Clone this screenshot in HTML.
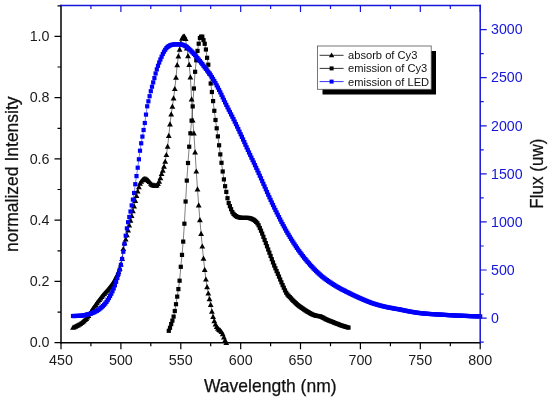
<!DOCTYPE html>
<html><head><meta charset="utf-8"><title>Spectra</title>
<style>html,body{margin:0;padding:0;background:#fff}svg{display:block;filter:blur(0.4px)}</style></head>
<body>
<svg width="550" height="400" viewBox="0 0 550 400" font-family="'Liberation Sans', Arial, sans-serif">
<defs>
<marker id="mt" markerWidth="6" markerHeight="6" refX="3" refY="3" markerUnits="userSpaceOnUse" overflow="visible"><path d="M3 0 L5.9 5.2 L0.1 5.2 Z" fill="#000"/></marker>
<marker id="ms" markerWidth="6" markerHeight="6" refX="3" refY="3" markerUnits="userSpaceOnUse" overflow="visible"><rect x="0.9" y="0.9" width="4.2" height="4.2" fill="#000"/></marker>
<marker id="mb" markerWidth="6" markerHeight="6" refX="3" refY="3" markerUnits="userSpaceOnUse" overflow="visible"><rect x="0.9" y="0.9" width="4.2" height="4.2" fill="#0000fa"/></marker>
</defs>
<rect width="550" height="400" fill="#fff"/>
<polyline fill="none" stroke="#000" stroke-width="0.5" marker-start="url(#mt)" marker-mid="url(#mt)" marker-end="url(#mt)" points="73.0,327.5 74.2,327.0 75.4,326.5 76.6,325.9 77.8,325.2 79.0,324.5 80.2,323.7 81.4,322.9 82.6,322.0 83.8,321.0 85.0,319.9 86.2,318.7 87.3,317.4 88.5,315.7 89.7,313.9 90.9,311.9 92.1,310.0 93.3,308.1 94.5,306.4 95.7,304.7 96.9,303.1 98.1,301.4 99.3,299.8 100.5,298.3 101.7,296.7 102.9,295.3 104.1,293.9 105.3,292.6 106.5,291.3 107.7,289.9 108.9,288.5 110.1,286.9 111.3,285.3 112.5,283.5 113.7,281.7 114.9,279.6 116.1,277.3 117.3,274.8 118.5,271.9 119.7,268.6 120.9,264.4 122.1,258.8 123.3,248.9 124.5,243.1 125.7,239.4 126.9,235.1 128.1,230.3 129.3,225.4 130.5,220.6 131.7,215.9 132.9,211.1 134.1,206.2 135.3,200.8 136.5,195.9 137.7,191.2 138.9,187.0 140.0,183.6 141.2,181.5 142.4,180.0 143.6,179.2 144.8,178.8 146.0,179.0 147.2,179.8 148.4,180.8 149.6,181.9 150.8,183.5 152.0,184.7 153.2,185.2 154.4,185.6 155.6,185.7 156.8,185.4 158.0,183.8 159.2,181.6 160.4,178.1 161.6,173.9 162.8,170.5 164.0,166.6 165.2,161.5 166.4,154.9 167.6,146.5 168.8,135.7 170.0,124.3 171.2,114.2 172.4,106.5 173.6,98.3 174.8,88.9 176.0,77.6 177.2,65.0 178.4,56.2 179.6,49.6 180.8,43.4 182.0,38.6 183.2,36.6 184.4,36.6 185.6,38.8 186.8,48.3 188.0,56.1 189.2,64.8 190.4,77.2 191.6,99.3 192.7,120.4 193.9,133.3 195.1,152.2 196.3,171.4 197.5,189.3 198.7,205.2 199.9,220.0 201.1,233.8 202.3,246.4 203.5,258.6 204.7,269.7 205.9,279.4 207.1,287.1 208.3,293.4 209.5,299.1 210.7,304.7 211.9,311.5 213.1,316.7 214.3,321.1 215.5,324.4 216.7,326.8 217.9,328.6 219.1,329.8 220.3,330.6 221.5,331.9 222.7,334.1 223.9,337.2 225.1,340.4 226.3,342.9"/>
<polyline fill="none" stroke="#000" stroke-width="0.5" marker-start="url(#ms)" marker-mid="url(#ms)" marker-end="url(#ms)" points="168.8,330.8 170.0,327.8 171.2,324.1 172.4,320.6 173.6,316.6 174.8,311.0 176.0,304.2 177.2,296.6 178.4,289.1 179.6,280.7 180.8,266.8 182.0,254.9 183.2,241.6 184.4,223.7 185.6,201.5 186.8,180.6 188.0,163.0 189.2,146.7 190.4,133.3 191.6,120.6 192.7,106.4 193.9,88.5 195.1,71.8 196.3,60.3 197.5,50.9 198.7,43.7 199.9,38.0 201.1,36.7 202.3,36.7 203.5,40.1 204.7,43.8 205.9,49.5 207.1,57.8 208.3,64.7 209.5,73.7 210.7,83.5 211.9,92.0 213.1,101.1 214.3,110.8 215.5,120.0 216.7,128.3 217.9,136.4 219.1,145.3 220.3,154.4 221.5,162.8 222.7,171.5 223.9,179.4 225.1,186.2 226.3,191.9 227.5,198.2 228.7,203.0 229.9,206.2 231.1,209.2 232.3,212.1 233.5,213.9 234.7,215.1 235.9,216.1 237.1,216.7 238.3,217.1 239.5,217.5 240.7,217.8 241.9,217.9 243.1,217.9 244.3,217.9 245.4,217.9 246.6,217.9 247.8,217.9 249.0,218.0 250.2,218.3 251.4,218.7 252.6,219.3 253.8,219.9 255.0,220.8 256.2,221.9 257.4,223.3 258.6,225.3 259.8,228.0 261.0,230.7 262.2,233.6 263.4,236.8 264.6,240.0 265.8,243.1 267.0,246.3 268.2,249.5 269.4,252.7 270.6,256.0 271.8,259.2 273.0,262.4 274.2,265.5 275.4,268.3 276.6,271.1 277.8,273.8 279.0,276.6 280.2,279.5 281.4,282.3 282.6,285.1 283.8,287.7 285.0,290.4 286.2,292.7 287.4,294.5 288.6,295.9 289.8,297.1 291.0,298.4 292.2,299.7 293.4,300.9 294.6,302.1 295.8,303.2 296.9,304.3 298.1,305.2 299.3,306.2 300.5,307.0 301.7,307.9 302.9,308.7 304.1,309.5 305.3,310.3 306.5,311.1 307.7,311.9 308.9,312.5 310.1,313.2 311.3,313.9 312.5,314.5 313.7,315.0 314.9,315.4 316.1,315.7 317.3,315.9 318.5,316.1 319.7,316.3 320.9,316.7 322.1,317.2 323.3,317.8 324.5,318.5 325.7,319.2 326.9,319.7 328.1,320.2 329.3,320.7 330.5,321.2 331.7,321.6 332.9,322.1 334.1,322.6 335.3,323.1 336.5,323.6 337.7,324.0 338.9,324.5 340.1,325.0 341.3,325.4 342.5,325.8 343.7,326.2 344.9,326.6 346.1,326.9 347.3,327.3 348.5,327.6"/>
<polyline fill="none" stroke="#0000fa" stroke-width="0.5" marker-start="url(#mb)" marker-mid="url(#mb)" marker-end="url(#mb)" points="73.0,316.0 74.2,316.0 75.4,316.0 76.6,315.9 77.8,315.9 79.0,315.8 80.2,315.8 81.4,315.7 82.6,315.5 83.8,315.3 85.0,315.1 86.2,314.8 87.3,314.5 88.5,314.2 89.7,313.9 90.9,313.5 92.1,313.1 93.3,312.6 94.5,312.1 95.7,311.4 96.9,310.8 98.1,310.0 99.3,309.2 100.5,308.2 101.7,307.2 102.9,306.1 104.1,304.8 105.3,303.5 106.5,301.9 107.7,300.1 108.9,298.1 110.1,296.0 111.3,293.7 112.5,291.2 113.7,288.4 114.9,285.3 116.1,281.8 117.3,278.0 118.5,274.0 119.7,269.7 120.9,264.8 122.1,259.0 123.3,251.7 124.5,243.8 125.7,235.7 126.9,228.4 128.1,222.2 129.3,217.0 130.5,211.5 131.7,205.4 132.9,199.6 134.1,193.0 135.3,184.2 136.5,176.1 137.7,167.7 138.9,159.3 140.0,150.7 141.2,143.3 142.4,136.6 143.6,130.0 144.8,123.0 146.0,114.6 147.2,106.3 148.4,101.3 149.6,96.2 150.8,91.2 152.0,86.7 153.2,82.4 154.4,78.1 155.6,73.5 156.8,69.4 158.0,65.8 159.2,62.5 160.4,59.5 161.6,56.7 162.8,54.0 164.0,51.7 165.2,49.8 166.4,48.1 167.6,46.9 168.8,46.1 170.0,45.4 171.2,45.0 172.4,44.7 173.6,44.5 174.8,44.3 176.0,44.3 177.2,44.3 178.4,44.3 179.6,44.4 180.8,44.5 182.0,44.6 183.2,45.0 184.4,45.5 185.6,46.1 186.8,46.9 188.0,48.0 189.2,49.2 190.4,50.3 191.6,51.5 192.7,52.6 193.9,53.9 195.1,55.2 196.3,56.6 197.5,58.1 198.7,59.6 199.9,61.1 201.1,62.6 202.3,64.1 203.5,65.7 204.7,67.3 205.9,68.9 207.1,70.5 208.3,72.0 209.5,73.6 210.7,75.3 211.9,77.1 213.1,79.0 214.3,81.1 215.5,83.2 216.7,85.4 217.9,87.6 219.1,89.9 220.3,92.3 221.5,94.8 222.7,97.4 223.9,99.9 225.1,102.4 226.3,104.9 227.5,107.3 228.7,109.7 229.9,112.0 231.1,114.4 232.3,116.7 233.5,119.1 234.7,121.6 235.9,124.1 237.1,126.6 238.3,129.1 239.5,131.7 240.7,134.3 241.9,136.9 243.1,139.5 244.3,142.1 245.4,144.7 246.6,147.3 247.8,149.9 249.0,152.5 250.2,155.0 251.4,157.6 252.6,160.1 253.8,162.6 255.0,165.2 256.2,167.8 257.4,170.4 258.6,173.0 259.8,175.7 261.0,178.3 262.2,181.1 263.4,183.8 264.6,186.5 265.8,189.3 267.0,192.0 268.2,194.7 269.4,197.3 270.6,199.9 271.8,202.5 273.0,205.0 274.2,207.5 275.4,210.0 276.6,212.4 277.8,214.8 279.0,217.1 280.2,219.5 281.4,221.8 282.6,224.1 283.8,226.3 285.0,228.5 286.2,230.7 287.4,232.8 288.6,234.8 289.8,236.8 291.0,238.8 292.2,240.7 293.4,242.6 294.6,244.4 295.8,246.2 296.9,247.9 298.1,249.6 299.3,251.3 300.5,252.9 301.7,254.5 302.9,256.1 304.1,257.6 305.3,259.1 306.5,260.5 307.7,261.9 308.9,263.3 310.1,264.7 311.3,266.0 312.5,267.3 313.7,268.6 314.9,269.8 316.1,271.0 317.3,272.2 318.5,273.3 319.7,274.4 320.9,275.5 322.1,276.5 323.3,277.4 324.5,278.4 325.7,279.3 326.9,280.1 328.1,281.0 329.3,281.8 330.5,282.6 331.7,283.4 332.9,284.2 334.1,284.9 335.3,285.7 336.5,286.4 337.7,287.1 338.9,287.8 340.1,288.4 341.3,289.1 342.5,289.7 343.7,290.3 344.9,290.9 346.1,291.6 347.3,292.1 348.5,292.7 349.6,293.3 350.8,293.9 352.0,294.5 353.2,295.0 354.4,295.6 355.6,296.2 356.8,296.7 358.0,297.3 359.2,297.8 360.4,298.3 361.6,298.9 362.8,299.4 364.0,299.9 365.2,300.4 366.4,300.9 367.6,301.4 368.8,301.9 370.0,302.3 371.2,302.8 372.4,303.2 373.6,303.6 374.8,304.0 376.0,304.3 377.2,304.7 378.4,305.0 379.6,305.4 380.8,305.7 382.0,306.0 383.2,306.3 384.4,306.6 385.6,306.8 386.8,307.1 388.0,307.4 389.2,307.6 390.4,307.8 391.6,308.0 392.8,308.3 394.0,308.5 395.2,308.7 396.4,308.9 397.6,309.1 398.8,309.3 400.0,309.5 401.2,309.8 402.3,310.0 403.5,310.3 404.7,310.5 405.9,310.8 407.1,311.0 408.3,311.2 409.5,311.5 410.7,311.7 411.9,311.9 413.1,312.1 414.3,312.3 415.5,312.5 416.7,312.7 417.9,312.8 419.1,313.0 420.3,313.1 421.5,313.3 422.7,313.4 423.9,313.5 425.1,313.6 426.3,313.7 427.5,313.8 428.7,313.9 429.9,314.0 431.1,314.1 432.3,314.1 433.5,314.2 434.7,314.3 435.9,314.4 437.1,314.4 438.3,314.5 439.5,314.6 440.7,314.6 441.9,314.7 443.1,314.8 444.3,314.9 445.5,314.9 446.7,315.0 447.9,315.1 449.1,315.1 450.3,315.2 451.5,315.3 452.7,315.3 453.9,315.4 455.0,315.5 456.2,315.5 457.4,315.6 458.6,315.6 459.8,315.7 461.0,315.7 462.2,315.8 463.4,315.8 464.6,315.9 465.8,315.9 467.0,316.0 468.2,316.0 469.4,316.1 470.6,316.1 471.8,316.2 473.0,316.2 474.2,316.2 475.4,316.3 476.6,316.3 477.8,316.3 479.0,316.4 480.2,316.4"/>
<g stroke="#000" stroke-width="1.5" fill="none">
<path d="M61.0 4.75 V343.45"/>
<path d="M60.25 342.7 H480.95"/>
<path d="M61.0 342.7h-6.5M61.0 281.4h-6.5M61.0 220.2h-6.5M61.0 158.9h-6.5M61.0 97.7h-6.5M61.0 36.4h-6.5M61.0 312.1h-3.5M61.0 250.8h-3.5M61.0 189.5h-3.5M61.0 128.3h-3.5M61.0 67.0h-3.5M61.0 5.8h-3.5M61.0 342.7v6.5M120.9 342.7v6.5M180.8 342.7v6.5M240.7 342.7v6.5M300.5 342.7v6.5M360.4 342.7v6.5M420.3 342.7v6.5M480.2 342.7v6.5M90.9 342.7v3.5M150.8 342.7v3.5M210.7 342.7v3.5M270.6 342.7v3.5M330.5 342.7v3.5M390.4 342.7v3.5M450.3 342.7v3.5" stroke-width="1.2"/>
</g>
<g stroke="#1616d8" stroke-width="1.5" fill="none">
<path d="M60.25 5.5 H480.95"/>
<path d="M480.2 4.75 V343.45"/>
<path d="M120.9 5.5v6.5M180.8 5.5v6.5M240.7 5.5v6.5M300.5 5.5v6.5M360.4 5.5v6.5M420.3 5.5v6.5M480.2 5.5v6.5M90.9 5.5v3.5M150.8 5.5v3.5M210.7 5.5v3.5M270.6 5.5v3.5M330.5 5.5v3.5M390.4 5.5v3.5M450.3 5.5v3.5M480.2 318.1h6.5M480.2 270.0h6.5M480.2 221.9h6.5M480.2 173.9h6.5M480.2 125.8h6.5M480.2 77.7h6.5M480.2 29.6h6.5M480.2 342.1h3.5M480.2 294.1h3.5M480.2 246.0h3.5M480.2 197.9h3.5M480.2 149.8h3.5M480.2 101.7h3.5M480.2 53.6h3.5" stroke-width="1.2"/>
</g>
<g font-size="14.3" fill="#1a1a1a">
<text x="49.5" y="347.4" text-anchor="end">0.0</text>
<text x="49.5" y="286.1" text-anchor="end">0.2</text>
<text x="49.5" y="224.9" text-anchor="end">0.4</text>
<text x="49.5" y="163.6" text-anchor="end">0.6</text>
<text x="49.5" y="102.4" text-anchor="end">0.8</text>
<text x="49.5" y="41.1" text-anchor="end">1.0</text>
<text x="61.0" y="364.7" text-anchor="middle">450</text>
<text x="120.9" y="364.7" text-anchor="middle">500</text>
<text x="180.8" y="364.7" text-anchor="middle">550</text>
<text x="240.7" y="364.7" text-anchor="middle">600</text>
<text x="300.5" y="364.7" text-anchor="middle">650</text>
<text x="360.4" y="364.7" text-anchor="middle">700</text>
<text x="420.3" y="364.7" text-anchor="middle">750</text>
<text x="480.2" y="364.7" text-anchor="middle">800</text>
</g>
<g font-size="14.2" fill="#1616d8">
<text x="491" y="322.8">0</text>
<text x="491" y="274.7">500</text>
<text x="491" y="226.6">1000</text>
<text x="491" y="178.6">1500</text>
<text x="491" y="130.5">2000</text>
<text x="491" y="82.4">2500</text>
<text x="491" y="34.3">3000</text>
</g>
<g font-size="17.8" fill="#111" stroke="#111" stroke-width="0.25">
<text x="204" y="392.4" textLength="132.6" lengthAdjust="spacingAndGlyphs">Wavelength (nm)</text>
<text transform="translate(18.2,252) rotate(-90)" textLength="155.6" lengthAdjust="spacingAndGlyphs">normalized Intensity</text>
<text transform="translate(543.4,208.8) rotate(-90)" textLength="70.2" lengthAdjust="spacingAndGlyphs">Flux (uw)</text>
</g>
<rect x="322.5" y="51" width="113.5" height="43.5" fill="#000"/>
<rect x="317.4" y="46" width="113.8" height="43.3" fill="#fff" stroke="#555" stroke-width="0.8"/>
<path d="M319.6 55.3H343.6" stroke="#000" stroke-width="0.8"/>
<path d="M331.6 52.5 l2.7 4.8 h-5.4 Z" fill="#000"/>
<text x="348" y="59.2" font-size="11.15" fill="#111">absorb of Cy3</text>
<path d="M319.6 68.4H343.6" stroke="#000" stroke-width="0.8"/>
<rect x="329.6" y="66.4" width="4" height="4" fill="#000"/>
<text x="348" y="72.3" font-size="11.15" fill="#111">emission of Cy3</text>
<path d="M319.6 81.6H343.6" stroke="#0000fa" stroke-width="0.8"/>
<rect x="329.6" y="79.6" width="4" height="4" fill="#0000fa"/>
<text x="348" y="85.5" font-size="11.15" fill="#111">emission of LED</text>
</svg>
</body></html>
